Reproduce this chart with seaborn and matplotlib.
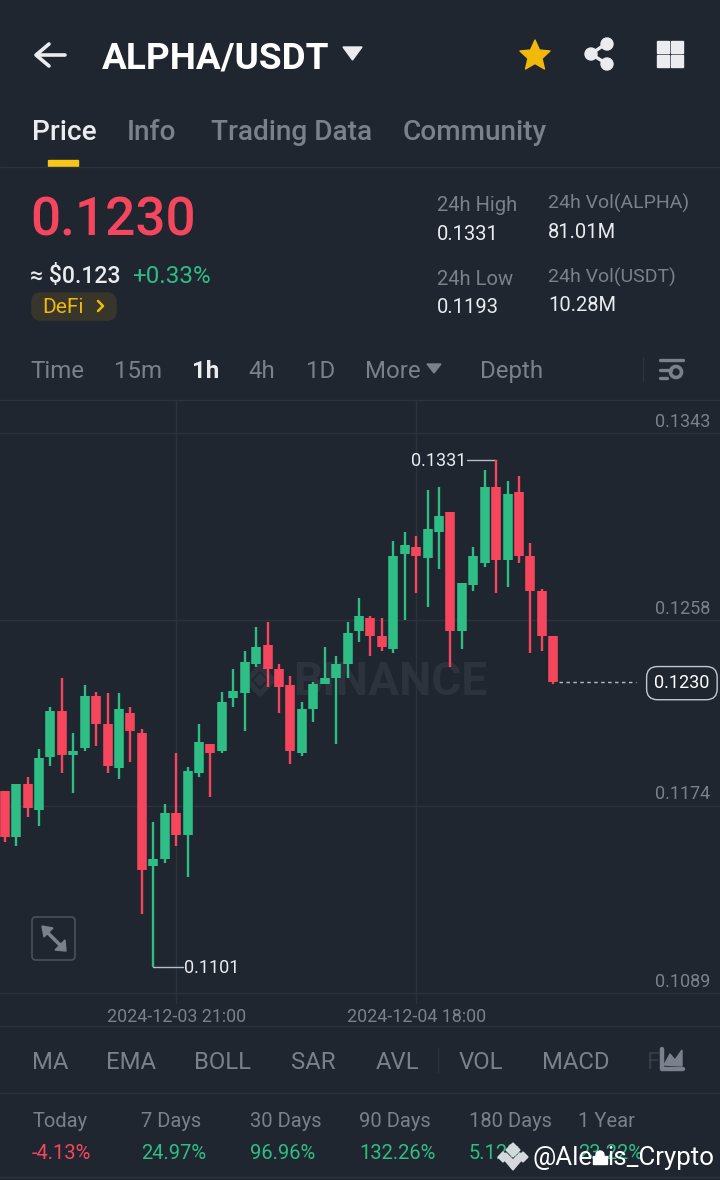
import pandas as pd
import matplotlib.pyplot as plt
from matplotlib.patches import FancyBboxPatch, Polygon, Rectangle, Circle
import seaborn as sns

# Candle values (1h candles, oldest first)
opens = [.11808, .11599, .11837, .11720, .11959, .12168, .11970, .12000, .12239, .12109,
         .11909, .12159, .12068, .11467, .11498, .11705, .11608, .11889, .12018, .11989,
         .12230, .12249, .12381, .12470, .12360, .12288, .11977, .12178, .12290, .12320,
         .12381, .12532, .12591, .12511, .12450, .12883, .12912, .12863, .12982, .13073,
         .12532, .12742, .12842, .13184, .12854, .13162, .12872, .12712, .12511]
closes = [.11599, .11837, .11729, .11957, .12168, .11970, .11988, .12239, .12110, .11920,
          .12178, .12080, .11448, .11496, .11705, .11608, .11897, .12027, .11980, .12209,
          .12259, .12390, .12459, .12360, .12279, .11989, .12178, .12290, .12320, .12381,
          .12522, .12601, .12511, .12461, .12872, .12922, .12872, .12993, .13054, .12532,
          .12751, .12872, .13184, .12854, .13153, .12872, .12712, .12511, .12299]
highs = [.11808, .11837, .11868, .11998, .12189, .12319, .12068, .12288, .12257, .12249,
         .12249, .12189, .12087, .11667, .11746, .11977, .11917, .12109, .12018, .12257,
         .12360, .12441, .12551, .12571, .12381, .12329, .12209, .12299, .12461, .12420,
         .12571, .12680, .12601, .12591, .12942, .12982, .12963, .13173, .13184, .13073,
         .12751, .12912, .13264, .13310, .13214, .13234, .12933, .12721, .12511]
lows = [.11576, .11558, .11690, .11649, .11920, .11889, .11799, .11989, .12010, .11889,
        .11859, .11939, .11247, .11010, .11478, .11558, .11416, .11868, .11779, .11980,
        .12189, .12078, .12370, .12279, .12159, .11929, .11966, .12118, .12290, .12018,
        .12320, .12481, .12420, .12441, .12431, .12582, .12703, .12642, .12813, .12370,
        .12450, .12712, .12822, .12703, .12733, .12842, .12431, .12441, .12290]

price_ticks = [0.1343, 0.1258, 0.1174, 0.1089]
date_ticks = [15, 36]
date_labels = ['2024-12-03 21:00', '2024-12-04 18:00']
high_idx, low_idx = 43, 13
last_price = 0.1230

tabs = ['Price', 'Info', 'Trading Data', 'Community']
intervals = ['Time', '15m', '1h', '4h', '1D', 'More', 'Depth']
indicators = ['MA', 'EMA', 'BOLL', 'SAR', 'AVL', 'VOL', 'MACD']
periods = ['Today', '7 Days', '30 Days', '90 Days', '180 Days', '1 Year']
period_values = ['-4.13%', '24.97%', '96.96%', '132.26%', '5.12%', '23.22%']

BG = '#1F2630'
GRID = '#2C333D'
GREY = '#79818D'
RED = '#F6465D'
GREEN = '#2EBD85'
YELLOW = '#F0B90B'
WHITE = '#EAECEF'

sns.set_theme(style='dark', rc={'figure.facecolor': BG, 'axes.facecolor': BG})
plt.rcParams['font.family'] = ['Roboto', 'DejaVu Sans']

fig = plt.figure(figsize=(7.2, 11.8), dpi=100)

# Full-page layer in pixel coordinates for the app chrome
ui = fig.add_axes([0, 0, 1, 1], zorder=0)
ui.set_xlim(0, 720)
ui.set_ylim(1180, 0)
ui.axis('off')


def label(x, y, s, size=17, color=GREY, ha='left', weight='normal', zorder=3):
    ui.text(x, y + size * 0.09, s, fontsize=size, color=color, ha=ha, va='center', fontweight=weight, zorder=zorder)


# Header
ui.plot([65, 37], [55, 55], color=WHITE, lw=2.6, solid_capstyle='round')
ui.plot([49, 36, 49], [44, 55, 66], color=WHITE, lw=2.6, solid_capstyle='round')
label(102, 56, 'ALPHA/USDT', size=26.6, color='white', weight='bold')
ui.add_patch(Polygon([[343, 47], [362, 47], [352.5, 60]], closed=True, color=WHITE))
star = [[535, 40], [539.5, 50], [550, 51], [542, 58.5], [544.5, 69], [535, 63.5],
        [525.5, 69], [528, 58.5], [520, 51], [530.5, 50]]
ui.add_patch(Polygon(star, closed=True, color=YELLOW, joinstyle='round'))
ui.plot([607, 591, 607], [43, 54, 64], color=WHITE, lw=2.4)
for cx, cy in [(607, 44), (591, 54), (607, 64)]:
    ui.add_patch(Circle((cx, cy), 6, color=WHITE))
for gx, gy in [(657, 41), (671, 41), (657, 55), (671, 55)]:
    ui.add_patch(Rectangle((gx, gy), 12, 12, color=WHITE))

# Tabs
for x, s in zip([32, 127, 211, 403], tabs):
    label(x, 131, s, size=20.2, color=WHITE if s == 'Price' else GREY, weight='medium')
ui.add_patch(Rectangle((48, 160), 30, 6, color='#F5C518'))
ui.plot([0, 720], [166.5, 166.5], color=GRID, lw=1)

# Price block
label(30, 218, '0.1230', size=38.2, color=RED, weight='medium')
label(30, 275, '≈ $0.123', size=16.6, color=WHITE, weight='medium')
label(132, 275, '+0.33%', size=17.4, color=GREEN)
ui.add_patch(FancyBboxPatch((34, 295), 80, 23, boxstyle='round,pad=0,rounding_size=7',
                            mutation_aspect=1, lw=4, ec='#38352B', fc='#38352B'))
label(42, 306, 'DeFi', size=15, color=YELLOW)
ui.plot([98, 103, 98], [301, 306, 311], color=YELLOW, lw=1.8)
label(437, 204, '24h High', size=14.5)
label(437, 233, '0.1331', size=14.5, color=WHITE)
label(437, 278, '24h Low', size=14.5)
label(437, 306, '0.1193', size=14.5, color=WHITE)
label(548, 202, '24h Vol(ALPHA)', size=14)
label(548, 231, '81.01M', size=14.5, color=WHITE)
label(548, 276, '24h Vol(USDT)', size=14)
label(548, 304, '10.28M', size=14.5, color=WHITE)

# Interval row
for x, s in zip([30, 114, 192, 248, 306, 365, 480], intervals):
    label(x, 370, s, size=17.3, color=WHITE if s == '1h' else GREY, weight='bold' if s == '1h' else 'normal')
ui.add_patch(Polygon([[427, 364], [441, 364], [434, 373]], closed=True, color=GREY))
ui.plot([642.5, 642.5], [357, 381], color=GRID, lw=1)
ui.plot([660, 683], [360, 360], color=GREY, lw=2.4)
ui.plot([660, 671], [370, 370], color=GREY, lw=2.4)
ui.plot([660, 667], [378, 378], color=GREY, lw=2.4)
ui.add_patch(Circle((676, 372), 5.5, fc=BG, ec=GREY, lw=2.6))

# Watermark behind the candles
ui.text(390, 682, 'BINANCE', fontsize=33, color='#2D333D', fontweight='bold', ha='center', va='center')
ui.add_patch(Polygon([[254, 680], [260, 674], [266, 680], [260, 686]], closed=True, color='#2D333D'))
ui.plot([247, 260, 273], [680, 667, 680], color='#2D333D', lw=4)
ui.plot([247, 260, 273], [680, 694, 680], color='#2D333D', lw=4)

# Chart block, 400..1004 px tall, x scale puts candle 0 at 4.7 px and 11.43 px per candle
chart = fig.add_axes([0, 1 - 1004 / 1180, 1, 604 / 1180], zorder=2)
chart.patch.set_alpha(0)

candles = pd.DataFrame({'open': opens, 'high': highs, 'low': lows, 'close': closes})
candles['idx'] = candles.index
candles['dir'] = ['up' if c >= o else 'down' for o, c in zip(opens, closes)]
palette = {'up': GREEN, 'down': RED}

wicks = candles.melt(id_vars=['idx', 'dir'], value_vars=['low', 'high'], value_name='price')
bodies = candles.melt(id_vars=['idx', 'dir'], value_vars=['open', 'close'], value_name='price')

sns.lineplot(data=wicks, x='idx', y='price', hue='dir', units='idx', estimator=None, palette=palette,
             sort=False, linewidth=1.7, legend=False, solid_capstyle='butt', ax=chart, zorder=3)
sns.lineplot(data=bodies, x='idx', y='price', hue='dir', units='idx', estimator=None, palette=palette,
             sort=False, linewidth=6.9, legend=False, solid_capstyle='butt', ax=chart, zorder=4)

chart.set_xlim(-0.411, 62.58)
chart.set_ylim(0.10840, 0.13580)
chart.set_xlabel('')
chart.set_ylabel('')
chart.set_yticks(price_ticks)
chart.set_yticklabels([])
chart.set_xticks(date_ticks)
chart.set_xticklabels(date_labels, fontsize=12.9, color=GREY)
chart.tick_params(axis='both', length=0, pad=3)
chart.grid(True, color=GRID, lw=1)
chart.set_axisbelow(True)
for side in ['left', 'right', 'bottom']:
    chart.spines[side].set_visible(False)
chart.spines['top'].set_color(GRID)
chart.spines['top'].set_linewidth(1)

for p in price_ticks:
    chart.annotate(f'{p:.4f}', xy=(1, p), xycoords=('axes fraction', 'data'), xytext=(-7.2, 8.1),
                   textcoords='offset points', ha='right', va='center', fontsize=13, color=GREY)

# High and low markers
chart.plot([high_idx - 2.55, high_idx], [highs[high_idx]] * 2, color='#B7BDC6', lw=1)
chart.plot([low_idx, low_idx + 2.6], [lows[low_idx]] * 2, color='#B7BDC6', lw=1)
chart.annotate('0.1331', xy=(high_idx - 2.6, highs[high_idx]), xytext=(0, -1), textcoords='offset points',
               ha='right', va='center', fontsize=13, color=WHITE)
chart.annotate('0.1101', xy=(low_idx + 2.65, lows[low_idx]), xytext=(0, -1), textcoords='offset points',
               ha='left', va='center', fontsize=13, color=WHITE)

# Last price line and tag
chart.plot([48.5, 55.2], [last_price] * 2, color='#B7BDC6', lw=1, dashes=(2.5, 2.5))
chart.annotate(f'{last_price:.4f}', xy=(1, last_price), xycoords=('axes fraction', 'data'), xytext=(-7.5, -0.7),
               textcoords='offset points', ha='right', va='center', fontsize=13, color='white', zorder=6,
               bbox=dict(boxstyle='round,pad=0.42,rounding_size=0.6', fc=BG, ec='#C4C8CE', lw=1))

# Expand button
ui.add_patch(FancyBboxPatch((32, 917), 43, 43, boxstyle='round,pad=0,rounding_size=4', fc=BG, ec='#4A515C', lw=1.2))
ui.plot([46, 62], [931, 947], color='#79818D', lw=2.6)
ui.add_patch(Polygon([[42, 926], [53, 928], [44, 937]], closed=True, color='#79818D'))
ui.add_patch(Polygon([[66, 951], [55, 950], [65, 940]], closed=True, color='#79818D'))

# Indicator row
ui.plot([0, 720], [1025.5, 1025.5], color=GRID, lw=1)
for x, s in zip([32, 106, 194, 291, 376, 459, 542], indicators):
    label(x, 1061, s, size=17.2)
label(647, 1061, 'F', size=17.2, color='#353C47')
ui.plot([437.5, 437.5], [1048, 1072], color=GRID, lw=1)
ui.plot([662, 662, 683], [1049, 1069, 1069], color=GREY, lw=3.2)
ui.add_patch(Polygon([[664, 1065], [670, 1054], [675, 1060], [682, 1050], [682, 1066]], closed=True, color=GREY))
ui.plot([0, 720], [1092.5, 1092.5], color=GRID, lw=1)

# Period returns
for x, s, v in zip([33, 141, 250, 359, 469, 578], periods, period_values):
    label(x, 1120, s, size=14.5)
    label(x if s != 'Today' else 32, 1152, v, size=14.5, color=RED if v.startswith('-') else GREEN)
ui.plot([0, 720], [1176.5, 1176.5], color=GRID, lw=1)

# Repost handle on top of everything
for pts in ([[513, 1143], [520, 1150], [513, 1157], [506, 1150]],
            [[513, 1160], [520, 1153], [524, 1157], [513, 1170], [502, 1157], [506, 1153]],
            [[503, 1152], [508, 1157], [503, 1162], [498, 1157]],
            [[523, 1152], [528, 1157], [523, 1162], [518, 1157]]):
    ui.add_patch(Polygon(pts, closed=True, color='#D5D8DC', zorder=5))
label(532, 1156, '@Ale', size=18.6, color='white', zorder=6)
ui.add_patch(Rectangle((593, 1156), 14, 8, color='white', zorder=5))
ui.add_patch(Circle((600, 1155), 4, color='white', zorder=5))
label(607, 1156, 'is_Crypto', size=18.6, color='white', zorder=6)

fig.savefig('out.png', dpi=100, facecolor=BG)
